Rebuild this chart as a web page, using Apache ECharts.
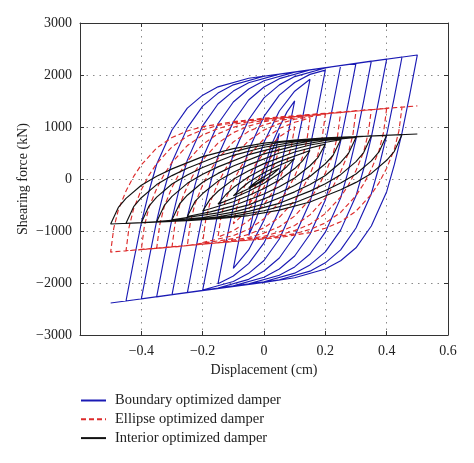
<!DOCTYPE html>
<html>
<head>
<meta charset="utf-8">
<script src="https://cdn.jsdelivr.net/npm/echarts@6/dist/echarts.min.js"></script>
<style>html,body{margin:0;padding:0;background:#fff;}#c{width:474px;height:463px;}</style>
</head>
<body>
<div id="c"></div>
<script>
const seriesNames = ['Boundary optimized damper', 'Ellipse optimized damper', 'Interior optimized damper'];

// Displacement (cm), shearing force (kN) — full load history of each damper
const boundaryDamper = [
[0,0],[0.025,530],[0.05,878],
[0.025,217],[0,-342],[-0.025,-755],[-0.05,-1085],
[-0.025,-387],[0,198],[0.025,666],[0.05,996],[0.075,1291],[0.1,1501],
[0.075,762],[0.05,124],[0.025,-418],[0,-794],[-0.05,-1364],[-0.1,-1718],
[-0.075,-967],[-0.05,-294],[-0.025,274],[0,705],[0.05,1308],[0.1,1688],[0.15,1917],
[0.125,1157],[0.1,458],[0.075,-129],[0.05,-599],[0,-1229],[-0.05,-1627],[-0.1,-1864],[-0.15,-2014],
[-0.125,-1251],[-0.1,-536],[-0.075,63],[-0.05,558],[0,1204],[0.05,1612],[0.1,1856],[0.15,2012],[0.2,2094],
[0.175,1327],[0.15,607],[0.125,3],[0.1,-503],[0.05,-1154],[0,-1568],[-0.05,-1814],[-0.1,-1971],[-0.2,-2135],
[-0.175,-1378],[-0.15,-649],[-0.125,-39],[-0.1,481],[-0.05,1140],[0,1560],[0.05,1810],[0.1,1969],[0.2,2135],[0.25,2183],
[0.225,1418],[0.2,688],[0.175,78],[0.15,-441],[0.1,-1101],[0.05,-1520],[0,-1770],[-0.05,-1930],[-0.15,-2096],[-0.25,-2188],
[-0.225,-1418],[-0.2,-688],[-0.175,-78],[-0.15,441],[-0.1,1101],[-0.05,1520],[0,1770],[0.05,1930],[0.15,2096],[0.3,2227],
[0.275,1457],[0.25,728],[0.225,118],[0.2,-402],[0.15,-1062],[0.1,-1481],[0.05,-1731],[0,-1890],[-0.1,-2056],[-0.3,-2227],
[-0.275,-1457],[-0.25,-728],[-0.225,-118],[-0.2,402],[-0.15,1062],[-0.1,1481],[-0.05,1731],[0,1890],[0.1,2056],[0.35,2267],
[0.325,1497],[0.3,767],[0.275,157],[0.25,-363],[0.2,-1022],[0.15,-1442],[0.1,-1691],[0.05,-1851],[-0.05,-2017],[-0.35,-2267],
[-0.325,-1497],[-0.3,-767],[-0.275,-157],[-0.25,363],[-0.2,1022],[-0.15,1442],[-0.1,1691],[-0.05,1851],[0.05,2017],[0.4,2306],
[0.375,1536],[0.35,807],[0.325,197],[0.3,-323],[0.25,-983],[0.2,-1402],[0.15,-1652],[0.1,-1811],[0,-1977],[-0.4,-2306],
[-0.375,-1536],[-0.35,-807],[-0.325,-197],[-0.3,323],[-0.25,983],[-0.2,1402],[-0.15,1652],[-0.1,1811],[0,1977],[0.45,2346],
[0.425,1576],[0.4,846],[0.375,236],[0.35,-284],[0.3,-943],[0.25,-1363],[0.2,-1612],[0.15,-1772],[0.05,-1938],[-0.45,-2346],
[-0.425,-1576],[-0.4,-846],[-0.375,-236],[-0.35,284],[-0.3,943],[-0.25,1363],[-0.2,1612],[-0.15,1772],[-0.05,1938],[0.5,2385],
[0.475,1615],[0.45,886],[0.425,276],[0.4,-244],[0.35,-904],[0.3,-1323],[0.25,-1573],[0.2,-1732],[0.1,-1898],[0,-1990],[-0.5,-2385]
];

const ellipseDamper = [
[0,0],[-0.01,-114],[-0.025,-278],[-0.05,-495],
[-0.04,-309],[-0.025,-92],[0,204],[0.025,436],[0.05,608],
[0.04,378],[0.025,161],[0,-151],[-0.025,-395],[-0.05,-579],[-0.1,-864],
[-0.09,-580],[-0.075,-296],[-0.05,41],[-0.025,304],[0,507],[0.05,812],[0.1,1003],
[0.09,651],[0.075,338],[0.05,-8],[0.025,-278],[0,-489],[-0.05,-801],[-0.1,-997],[-0.15,-1117],
[-0.14,-722],[-0.125,-390],[-0.1,-37],[-0.075,238],[-0.05,454],[0,770],[0.05,970],[0.1,1090],[0.15,1172],
[0.14,750],[0.125,408],[0.1,50],[0.075,-228],[0.05,-446],[0,-766],[-0.05,-967],[-0.1,-1089],[-0.2,-1220],
[-0.19,-786],[-0.175,-438],[-0.15,-80],[-0.125,199],[-0.1,419],[-0.05,741],[0,942],[0.05,1065],[0.1,1148],[0.2,1244],
[0.19,809],[0.175,452],[0.15,91],[0.125,-191],[0.1,-413],[0.05,-737],[0,-940],[-0.05,-1064],[-0.1,-1147],[-0.25,-1278],
[-0.24,-833],[-0.225,-476],[-0.2,-114],[-0.175,168],[-0.15,390],[-0.1,713],[-0.05,917],[0,1040],[0.05,1124],[0.15,1221],[0.25,1288],
[0.24,833],[0.225,476],[0.2,114],[0.175,-168],[0.15,-390],[0.1,-713],[0.05,-917],[0,-1040],[-0.05,-1124],[-0.15,-1221],[-0.3,-1311],
[-0.29,-856],[-0.275,-499],[-0.25,-138],[-0.225,144],[-0.2,366],[-0.15,690],[-0.1,893],[-0.05,1017],[0,1100],[0.1,1197],[0.3,1311],
[0.29,856],[0.275,499],[0.25,138],[0.225,-144],[0.2,-366],[0.15,-690],[0.1,-893],[0.05,-1017],[0,-1100],[-0.1,-1197],[-0.35,-1335],
[-0.34,-880],[-0.325,-523],[-0.3,-161],[-0.275,121],[-0.25,343],[-0.2,666],[-0.15,870],[-0.1,993],[-0.05,1077],[0.05,1174],[0.35,1335],
[0.34,880],[0.325,523],[0.3,161],[0.275,-121],[0.25,-343],[0.2,-666],[0.15,-870],[0.1,-993],[0.05,-1077],[-0.05,-1174],[-0.4,-1358],
[-0.39,-903],[-0.375,-546],[-0.35,-185],[-0.325,97],[-0.3,319],[-0.25,643],[-0.2,846],[-0.15,970],[-0.1,1053],[0,1150],[0.4,1358],
[0.39,903],[0.375,546],[0.35,185],[0.325,-97],[0.3,-319],[0.25,-643],[0.2,-846],[0.15,-970],[0.1,-1053],[0,-1150],[-0.45,-1382],
[-0.44,-927],[-0.425,-570],[-0.4,-208],[-0.375,74],[-0.35,296],[-0.3,619],[-0.25,823],[-0.2,946],[-0.15,1030],[-0.05,1127],[0.45,1382],
[0.44,927],[0.425,570],[0.4,208],[0.375,-74],[0.35,-296],[0.3,-619],[0.25,-823],[0.2,-946],[0.15,-1030],[0.05,-1127],[-0.5,-1405],
[-0.49,-950],[-0.475,-593],[-0.45,-232],[-0.425,50],[-0.4,272],[-0.35,596],[-0.3,799],[-0.25,923],[-0.2,1006],[-0.1,1103],[0,1170],[0.5,1405]
];

const interiorDamper = [
[0,0],[-0.025,-86],[-0.05,-169],
[-0.025,-48],[0,44],[0.025,130],[0.05,205],
[0.025,78],[0,-22],[-0.05,-187],[-0.1,-324],
[-0.075,-183],[-0.05,-62],[0,119],[0.05,266],[0.1,391],
[0.075,241],[0.05,111],[0,-83],[-0.05,-237],[-0.1,-366],[-0.15,-483],
[-0.125,-303],[-0.1,-165],[-0.05,42],[0,200],[0.05,334],[0.15,548],
[0.125,344],[0.1,201],[0.05,-20],[0,-182],[-0.05,-318],[-0.1,-437],[-0.2,-616],
[-0.175,-383],[-0.15,-236],[-0.1,-7],[-0.05,159],[0,296],[0.1,520],[0.2,670],
[0.175,405],[0.15,255],[0.1,19],[0.05,-149],[0,-288],[-0.1,-516],[-0.175,-632],[-0.25,-720],
[-0.225,-432],[-0.2,-280],[-0.15,-40],[-0.1,130],[-0.05,271],[0.05,500],[0.15,653],[0.25,755],
[0.225,452],[0.2,293],[0.15,47],[0.1,-124],[0.05,-265],[-0.05,-497],[-0.15,-651],[-0.3,-784],
[-0.275,-476],[-0.25,-312],[-0.2,-63],[-0.15,108],[-0.1,250],[0,483],[0.1,637],[0.2,741],[0.3,800],
[0.275,486],[0.25,318],[0.2,67],[0.15,-106],[0.1,-247],[0,-481],[-0.1,-636],[-0.2,-740],[-0.35,-821],
[-0.325,-508],[-0.3,-335],[-0.25,-83],[-0.2,90],[-0.15,233],[-0.05,468],[0.05,623],[0.15,728],[0.25,788],[0.35,828],
[0.325,508],[0.3,335],[0.25,83],[0.2,-90],[0.15,-233],[0.05,-468],[-0.05,-623],[-0.15,-728],[-0.25,-788],[-0.4,-840],
[-0.375,-521],[-0.35,-348],[-0.3,-95],[-0.25,78],[-0.2,220],[-0.1,455],[0,610],[0.1,715],[0.2,775],[0.3,815],[0.4,840],
[0.375,521],[0.35,348],[0.3,95],[0.25,-78],[0.2,-220],[0.1,-455],[0,-610],[-0.1,-715],[-0.2,-775],[-0.3,-815],[-0.45,-853],
[-0.425,-533],[-0.4,-360],[-0.35,-108],[-0.3,65],[-0.25,208],[-0.15,443],[-0.05,598],[0.05,703],[0.15,763],[0.25,803],[0.45,853],
[0.425,533],[0.4,360],[0.35,108],[0.3,-65],[0.25,-208],[0.15,-443],[0.05,-598],[-0.05,-703],[-0.15,-763],[-0.25,-803],[-0.5,-865],
[-0.475,-546],[-0.45,-373],[-0.4,-120],[-0.35,53],[-0.3,195],[-0.2,430],[-0.1,585],[0,690],[0.1,750],[0.2,790],[0.5,865]
];

const FONT = 'Liberation Serif';
const minus = s => String(s).replace('-', '\u2212');
const xFmt = v => minus(Number(v.toFixed(1)));
const yFmt = v => minus(Math.round(v));

const chart = echarts.init(document.getElementById('c'), null, {renderer: 'canvas'});

const axisCommonX = {
  type: 'value', min: -0.6, max: 0.6, interval: 0.2,
  axisLine: {show: true, onZero: false, lineStyle: {color: '#333', width: 1}},
  axisTick: {show: true, inside: true, length: 4, lineStyle: {color: '#333'}},
};
const axisCommonY = {
  type: 'value', min: -3000, max: 3000, interval: 1000,
  axisLine: {show: true, onZero: false, lineStyle: {color: '#333', width: 1}},
  axisTick: {show: true, inside: true, length: 4, lineStyle: {color: '#333'}},
};
const gridLine = {show: true, lineStyle: {type: [1.5, 5], color: '#8a8a8a', width: 1}};

chart.setOption({
  animation: false,
  backgroundColor: '#ffffff',
  grid: {left: 80, right: 26, top: 23, bottom: 128, containLabel: false},
  legend: {
    orient: 'vertical', left: 80, top: 393, padding: 0,
    itemWidth: 25, itemHeight: 14, itemGap: 3.8,
    itemStyle: {opacity: 0, borderWidth: 0},
    textStyle: {fontFamily: FONT, fontSize: 14.5, color: '#222', padding: [0, 0, 0, 4]},
    data: seriesNames
  },
  xAxis: [
    Object.assign({}, axisCommonX, {
      position: 'bottom',
      name: 'Displacement (cm)', nameLocation: 'middle', nameGap: 27,
      nameTextStyle: {fontFamily: FONT, fontSize: 14, color: '#222'},
      axisLabel: {show: true, showMinLabel: false, margin: 9, formatter: xFmt, fontFamily: FONT, fontSize: 14, color: '#222'},
      splitLine: gridLine
    }),
    Object.assign({}, axisCommonX, {
      position: 'top', axisLabel: {show: false}, splitLine: {show: false}
    })
  ],
  yAxis: [
    Object.assign({}, axisCommonY, {
      position: 'left',
      name: 'Shearing force (kN)', nameLocation: 'middle', nameGap: 50, nameRotate: 90,
      nameMoveOverlap: false,
      nameTextStyle: {fontFamily: FONT, fontSize: 14, color: '#222'},
      axisLabel: {show: true, margin: 8, formatter: yFmt, fontFamily: FONT, fontSize: 14, color: '#222'},
      splitLine: gridLine
    }),
    Object.assign({}, axisCommonY, {
      position: 'right', axisLabel: {show: false}, splitLine: {show: false}
    })
  ],
  series: [
    {name: seriesNames[0], type: 'line', data: boundaryDamper, symbol: 'none', showSymbol: false,
     xAxisIndex: 0, yAxisIndex: 0, lineStyle: {color: '#1a1ab4', width: 1.15}, itemStyle: {color: '#1a1ab4'}},
    {name: seriesNames[1], type: 'line', data: ellipseDamper, symbol: 'none', showSymbol: false,
     xAxisIndex: 0, yAxisIndex: 0, lineStyle: {color: '#dd2b2b', width: 1.15, type: [5, 3]}, itemStyle: {color: '#dd2b2b'}},
    {name: seriesNames[2], type: 'line', data: interiorDamper, symbol: 'none', showSymbol: false,
     xAxisIndex: 0, yAxisIndex: 0, lineStyle: {color: '#111111', width: 1.15}, itemStyle: {color: '#111111'}}
  ]
});
</script>
</body>
</html>
